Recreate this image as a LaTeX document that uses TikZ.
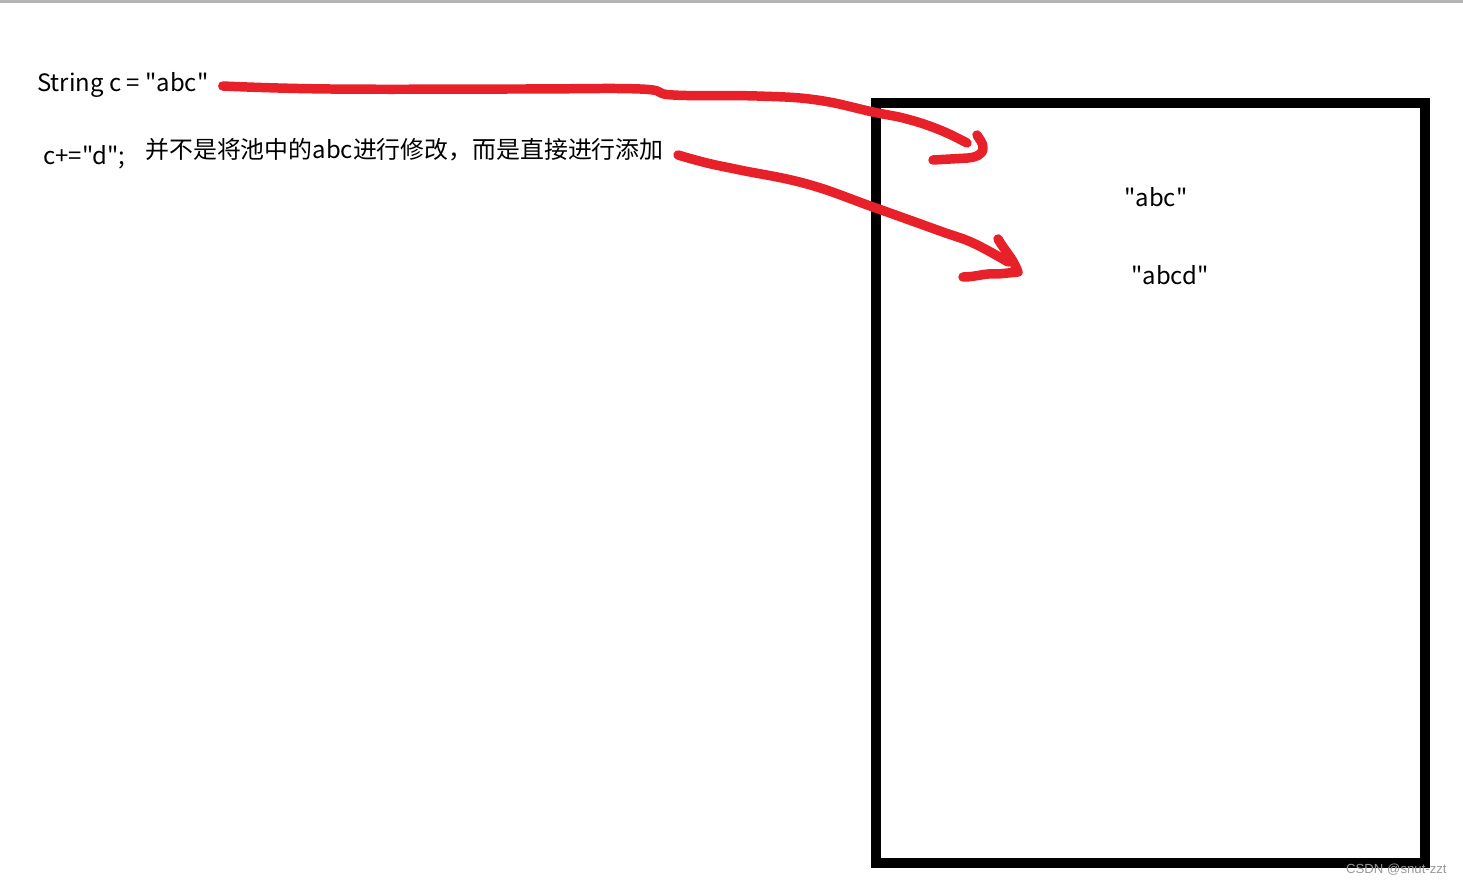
\documentclass[tikz,border=0pt]{standalone}
\usepackage{fontspec}
\setmainfont{Noto Sans CJK SC}[Ligatures=TeXOff]
\newfontfamily\markfont{Liberation Sans}
\usepackage{tikz}
\usetikzlibrary{calc}
\usetikzlibrary{positioning}
\definecolor{penred}{HTML}{E8202A}
\definecolor{topbar}{HTML}{B4B4B4}
\tikzstyle{label} = [inner sep=0pt, anchor=west, font=\fontsize{13.6}{16}\selectfont]
\tikzstyle{pen} = [draw=penred, line width=5.4pt, line cap=round, line join=round]

\begin{document}
\begin{tikzpicture}[x=0.02cm, y=-0.02cm]
\useasboundingbox (0, 0) rectangle (1463, 885);
\fill [topbar] (0, 0) rectangle (1463, 3);
% string pool
\coordinate (poolnw) at (876, 103);
\coordinate (poolse) at (1425, 863);
\draw [line width=5.4pt] (poolnw) rectangle (poolse);
\node [label] (code1) at (37, 85) {String c = "abc"};
\node [label] (code2) at (43, 157) {c+="d";};
\node [label] (note) at (145, 150) {并不是将池中的abc进行修改，而是直接进行添加};
\node [label] (str1) at (1124, 197) {"abc"};
\node [label] (str2) at (1131, 275) {"abcd"};
\node [anchor=east, inner sep=0pt, text=black!40, font=\markfont\fontsize{7.5}{9}\selectfont] (mark) at (1447, 870) {CSDN @snut-zzt};
% first arrow
\coordinate (tail1) at ($(code1.east)+(14, 1)$);
\coordinate (tip1) at ($(str1.west)+(-141, -49)$);
\draw [pen] plot [smooth, tension=0.7] coordinates {(tail1) (330, 89) (520, 89) (640, 89) (673, 95) (757, 96) (817, 100) (873, 112) (907, 119) (940, 130) (967, 143)};
\draw [pen] ($(tip1)+(-6, -13)$) to [out=-60, in=90] (tip1) to [out=-90, in=5] ($(tip1)+(-15, 10)$) -- ($(tip1)+(-50, 12)$);
% second arrow
\coordinate (tail2) at ($(note.east)+(14, 5)$);
\coordinate (tip2) at ($(str2.west)+(-113, -3)$);
\draw [pen] plot [smooth, tension=0.7] coordinates {(tail2) (707, 163) (740, 170) (807, 184) (873, 207) (940, 231) (973, 243) (1008, 262)};
\draw [pen] ($(tip2)+(-20, -33)$) to [out=-60, in=110] (tip2) -- ($(tip2)+(-20, 2)$) to [out=175, in=0] ($(tip2)+(-55, 5)$);
\end{tikzpicture}
\end{document}
